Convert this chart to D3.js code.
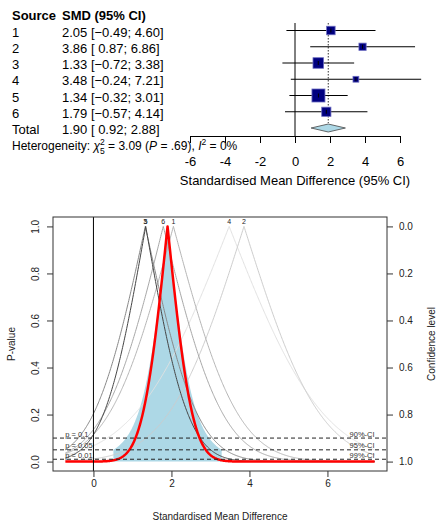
<!DOCTYPE html>
<html>
<head>
<meta charset="utf-8">
<script src="https://cdn.jsdelivr.net/npm/d3@7"></script>
<style>
body { margin: 0; background: #fff; }
svg text { font-family: "Liberation Sans", Arial, sans-serif; white-space: pre; }
</style>
</head>
<body>
<div id="chart"></div>
<script>
// study results (SMD with 95% CI)
var studies = ["1", "2", "3", "4", "5", "6"];
var smd = [2.05, 3.86, 1.33, 3.48, 1.34, 1.79];
var ciLow = [-0.49, 0.87, -0.72, -0.24, -0.32, -0.57];
var ciHigh = [4.60, 6.86, 3.38, 7.21, 3.01, 4.14];

// pooled estimate
var pooledEst = 1.90, pooledLow = 0.92, pooledHigh = 2.88;

// heterogeneity
var hetQ = "3.09", hetDf = 5, hetP = ".69", hetI2 = "0%";

// tick labels and reference levels
var forestTicks = [-6, -4, -2, 0, 2, 4, 6];
var smdTicks = [0, 2, 4, 6];
var pTicks = [0, 0.2, 0.4, 0.6, 0.8, 1.0];
var confTicks = [0, 0.2, 0.4, 0.6, 0.8, 1.0];
var pLevels = [0.1, 0.05, 0.01];
var pLabels = ["p = 0.1", "p = 0.05", "p = 0.01"];
var ciLabels = ["90%-CI", "95%-CI", "99%-CI"];

var width = 439, height = 523;
var svg = d3.select("#chart").append("svg")
    .attr("width", width)
    .attr("height", height);

var f2 = d3.format(".2f");
function fmtCi(v) { return (v >= 0 ? " " : "") + f2(v); }

// standard errors and inverse-variance weights from the CIs
var se = studies.map(function(d, i) { return (ciHigh[i] - ciLow[i]) / 3.92; });
var w = se.map(function(s) { return 1 / (s * s); });
var sePooled = (pooledHigh - pooledLow) / 3.92;

// ---------------- forest plot ----------------
var xF = d3.scaleLinear().domain([-6, 6]).range([190, 400]);
var yRow = d3.scaleLinear().domain([0, 6]).range([30.5, 128]);
var side = d3.scaleSqrt().domain([0, d3.max(w)]).range([0, 13]);
var txtShift = 1.5;

svg.append("text").attr("x", 12).attr("y", yRow(-1) + txtShift).attr("dy", "0.35em")
    .style("font-size", "13px").style("font-weight", "bold").text("Source");
svg.append("text").attr("x", 62).attr("y", yRow(-1) + txtShift).attr("dy", "0.35em")
    .style("font-size", "13px").style("font-weight", "bold").text("SMD (95% CI)");

studies.forEach(function(s, i) {
  svg.append("text").attr("x", 12).attr("y", yRow(i) + txtShift).attr("dy", "0.35em")
      .style("font-size", "13px").text(s);
  svg.append("text").attr("x", 62).attr("y", yRow(i) + txtShift).attr("dy", "0.35em")
      .style("font-size", "13px")
      .text(f2(smd[i]) + " [" + fmtCi(ciLow[i]) + "; " + f2(ciHigh[i]) + "]");
});
svg.append("text").attr("x", 12).attr("y", yRow(6) + txtShift).attr("dy", "0.35em")
    .style("font-size", "13px").text("Total");
svg.append("text").attr("x", 62).attr("y", yRow(6) + txtShift).attr("dy", "0.35em")
    .style("font-size", "13px")
    .text(f2(pooledEst) + " [" + fmtCi(pooledLow) + "; " + f2(pooledHigh) + "]");

// heterogeneity line
var het = svg.append("text").attr("x", 12).attr("y", 145.5).attr("dy", "0.35em")
    .style("font-size", "12px");
het.append("tspan").text("Heterogeneity: ");
het.append("tspan").style("font-style", "italic").text("\u03C7");
het.append("tspan").attr("dy", -5).style("font-size", "8.5px").text("2");
het.append("tspan").attr("dx", -4.7).attr("dy", 9).style("font-size", "8.5px").text(hetDf);
het.append("tspan").attr("dy", -4).text(" = " + hetQ + " (");
het.append("tspan").style("font-style", "italic").text("P");
het.append("tspan").text(" = " + hetP + "), ");
het.append("tspan").style("font-style", "italic").text("I");
het.append("tspan").attr("dy", -5).style("font-size", "8.5px").text("2");
het.append("tspan").attr("dy", 5).text(" = " + hetI2);

// null line and pooled line
svg.append("line")
    .attr("x1", xF(0)).attr("x2", xF(0)).attr("y1", 23).attr("y2", 136)
    .attr("stroke", "#000").attr("stroke-width", 1);
svg.append("line")
    .attr("x1", xF(pooledEst)).attr("x2", xF(pooledEst)).attr("y1", 23).attr("y2", yRow(6) - 5)
    .attr("stroke", "#333").attr("stroke-width", 1).attr("stroke-dasharray", "1.5,1.5");

// CI lines and squares
studies.forEach(function(s, i) {
  var cy = yRow(i);
  svg.append("line")
      .attr("x1", xF(ciLow[i])).attr("x2", xF(ciHigh[i])).attr("y1", cy).attr("y2", cy)
      .attr("stroke", "#000").attr("stroke-width", 1);
  var sz = side(w[i]);
  svg.append("rect")
      .attr("x", xF(smd[i]) - sz / 2).attr("y", cy - sz / 2)
      .attr("width", sz).attr("height", sz)
      .attr("fill", "#000080").attr("stroke", "#6a6ac0").attr("stroke-width", 0.8);
  svg.append("line")
      .attr("x1", xF(smd[i])).attr("x2", xF(smd[i])).attr("y1", cy - 2).attr("y2", cy + 2)
      .attr("stroke", "#000").attr("stroke-width", 1);
});

// diamond
var dy0 = yRow(6);
svg.append("path")
    .attr("d", "M" + xF(pooledLow) + "," + dy0 +
               "L" + xF(pooledEst) + "," + (dy0 - 4) +
               "L" + xF(pooledHigh) + "," + dy0 +
               "L" + xF(pooledEst) + "," + (dy0 + 4) + "Z")
    .attr("fill", "#add8e6").attr("stroke", "#444").attr("stroke-width", 0.8);

// forest axis (plain hyphen for negatives, like the original)
var fAxis = svg.append("g")
    .attr("transform", "translate(0,136)")
    .call(d3.axisBottom(xF).tickValues(forestTicks).tickSize(7).tickSizeOuter(0).tickPadding(14)
      .tickFormat(function(d) { return String(d); }));
fAxis.selectAll("text").style("font-size", "13px").style("font-family", "Liberation Sans, Arial, sans-serif").attr("fill", "#000");
fAxis.selectAll("line, path").attr("stroke", "#000");

svg.append("text")
    .attr("x", xF(0)).attr("y", 180).attr("dy", "0.35em")
    .attr("text-anchor", "middle").style("font-size", "13px")
    .text("Standardised Mean Difference (95% CI)");

// ---------------- drapery plot ----------------
var box = {left: 53, right: 387, top: 217, bottom: 471};
var lo = d3.min(ciLow), hi = d3.max(ciHigh);
var pad = (hi - lo) * 0.04;
var xS = d3.scaleLinear().domain([lo - pad, hi + pad]).range([box.left, box.right]);
var yP = d3.scaleLinear().domain([-0.04, 1.04]).range([box.bottom, box.top]);
var yC = d3.scaleLinear().domain([1.04, -0.04]).range([box.bottom, box.top]);

function pnorm(z) {
  var t = 1 / (1 + 0.3275911 * Math.abs(z) / Math.SQRT2);
  var y = 1 - (((((1.061405429 * t - 1.453152027) * t) + 1.421413741) * t - 0.284496736) * t + 0.254829592) * t * Math.exp(-z * z / 2);
  return z >= 0 ? 0.5 * (1 + y) : 0.5 * (1 - y);
}
// t distribution with 4 df (k - 2)
function pt4(t) {
  var a = 1 + t * t / 4;
  return 0.5 + 0.375 * (t / Math.sqrt(a)) * (1 - t * t / (12 * a));
}
function qt4(p) {
  var a = 0, b = 50;
  for (var k = 0; k < 60; k++) {
    var m = (a + b) / 2;
    if (pt4(m) < p) a = m; else b = m;
  }
  return (a + b) / 2;
}

var grid = d3.range(0, 601).map(function(j) { return lo + (hi - lo) * j / 600; });
function curveX(est) {
  return grid.concat([est]).sort(d3.ascending);
}
function pval(x, est, s) { return 2 * (1 - pnorm(Math.abs(x - est) / s)); }

svg.append("clipPath").attr("id", "plotclip")
  .append("rect")
    .attr("x", box.left).attr("y", box.top)
    .attr("width", box.right - box.left).attr("height", box.bottom - box.top);

var plot = svg.append("g").attr("clip-path", "url(#plotclip)");

// prediction region
var tq = qt4(0.975);
var predLo = pooledEst - tq * sePooled, predHi = pooledEst + tq * sePooled;
var predX = grid.filter(function(x) { return x >= predLo && x <= predHi; })
    .concat([predLo, predHi, pooledEst]).sort(d3.ascending);
var predArea = d3.area()
    .x(function(x) { return xS(x); })
    .y0(yP(0))
    .y1(function(x) { return yP(2 * (1 - pt4(Math.abs(x - pooledEst) / sePooled))); });
plot.append("path").datum(predX)
    .attr("d", predArea)
    .attr("fill", "#add8e6");

// study curves, lighter for smaller weights
var grey = d3.scaleLinear().domain([d3.min(w), d3.max(w)]).range(["#e2e2e2", "#454545"]);
var order = d3.range(studies.length).sort(function(a, b) { return w[a] - w[b]; });
order.forEach(function(i) {
  var line = d3.line()
      .x(function(x) { return xS(x); })
      .y(function(x) { return yP(pval(x, smd[i], se[i])); });
  plot.append("path").datum(curveX(smd[i]))
      .attr("d", line)
      .attr("fill", "none")
      .attr("stroke", grey(w[i]))
      .attr("stroke-width", 1);
});

// null line
svg.append("line")
    .attr("x1", xS(0)).attr("x2", xS(0)).attr("y1", box.top).attr("y2", box.bottom)
    .attr("stroke", "#000").attr("stroke-width", 1);

// reference levels
pLevels.forEach(function(p, i) {
  svg.append("line")
      .attr("x1", box.left).attr("x2", box.right).attr("y1", yP(p)).attr("y2", yP(p))
      .attr("stroke", "#222").attr("stroke-width", 1).attr("stroke-dasharray", "4,3");
  svg.append("text")
      .attr("x", xS(lo)).attr("y", yP(p) - 1.5)
      .style("font-size", "7.5px").attr("fill", "#333").text(pLabels[i]);
  svg.append("text")
      .attr("x", xS(hi)).attr("y", yP(p) - 1.5).attr("text-anchor", "end")
      .style("font-size", "7.5px").attr("fill", "#333").text(ciLabels[i]);
});

// pooled curve
var pooledLine = d3.line()
    .x(function(x) { return xS(x); })
    .y(function(x) { return yP(pval(x, pooledEst, sePooled)); });
plot.append("path").datum(curveX(pooledEst))
    .attr("d", pooledLine)
    .attr("fill", "none")
    .attr("stroke", "#ff0000")
    .attr("stroke-width", 2.5)
    .attr("stroke-linejoin", "round");

// study labels at the peaks
studies.forEach(function(s, i) {
  svg.append("text")
      .attr("x", xS(smd[i])).attr("y", yP(1) - 2.5)
      .attr("text-anchor", "middle")
      .style("font-size", "7px").attr("fill", "#222").text(s);
});

// box
svg.append("rect")
    .attr("x", box.left).attr("y", box.top)
    .attr("width", box.right - box.left).attr("height", box.bottom - box.top)
    .attr("fill", "none").attr("stroke", "#333").attr("stroke-width", 1);

// axes
var xAxis = svg.append("g")
    .attr("transform", "translate(0," + box.bottom + ")")
    .call(d3.axisBottom(xS).tickValues(smdTicks).tickSize(6).tickSizeOuter(0).tickPadding(3));
xAxis.select(".domain").remove();

var yAxis = svg.append("g")
    .attr("transform", "translate(" + box.left + ",0)")
    .call(d3.axisLeft(yP).tickValues(pTicks).tickSize(6).tickFormat(d3.format(".1f")));
yAxis.select(".domain").remove();
yAxis.selectAll("text")
    .attr("x", 0).attr("y", -14).attr("dy", 0)
    .attr("text-anchor", "middle")
    .attr("transform", "rotate(-90)");

var cAxis = svg.append("g")
    .attr("transform", "translate(" + box.right + ",0)")
    .call(d3.axisRight(yC).tickValues(confTicks).tickSize(6).tickPadding(6).tickFormat(d3.format(".1f")));
cAxis.select(".domain").remove();

[xAxis, yAxis, cAxis].forEach(function(g) {
  g.selectAll("text").style("font-size", "10px")
      .style("font-family", "Liberation Sans, Arial, sans-serif").attr("fill", "#222");
  g.selectAll("line").attr("stroke", "#333");
});

svg.append("text")
    .attr("x", (box.left + box.right) / 2).attr("y", 516).attr("dy", "0.35em")
    .attr("text-anchor", "middle").style("font-size", "10px").attr("fill", "#222")
    .text("Standardised Mean Difference");
svg.append("text")
    .attr("transform", "translate(15," + (box.top + box.bottom) / 2 + ") rotate(-90)")
    .attr("text-anchor", "middle").style("font-size", "10px").attr("fill", "#222")
    .text("P-value");
svg.append("text")
    .attr("transform", "translate(435," + (box.top + box.bottom) / 2 + ") rotate(-90)")
    .attr("text-anchor", "middle").style("font-size", "10px").attr("fill", "#222")
    .text("Confidence level");
</script>
</body>
</html>
